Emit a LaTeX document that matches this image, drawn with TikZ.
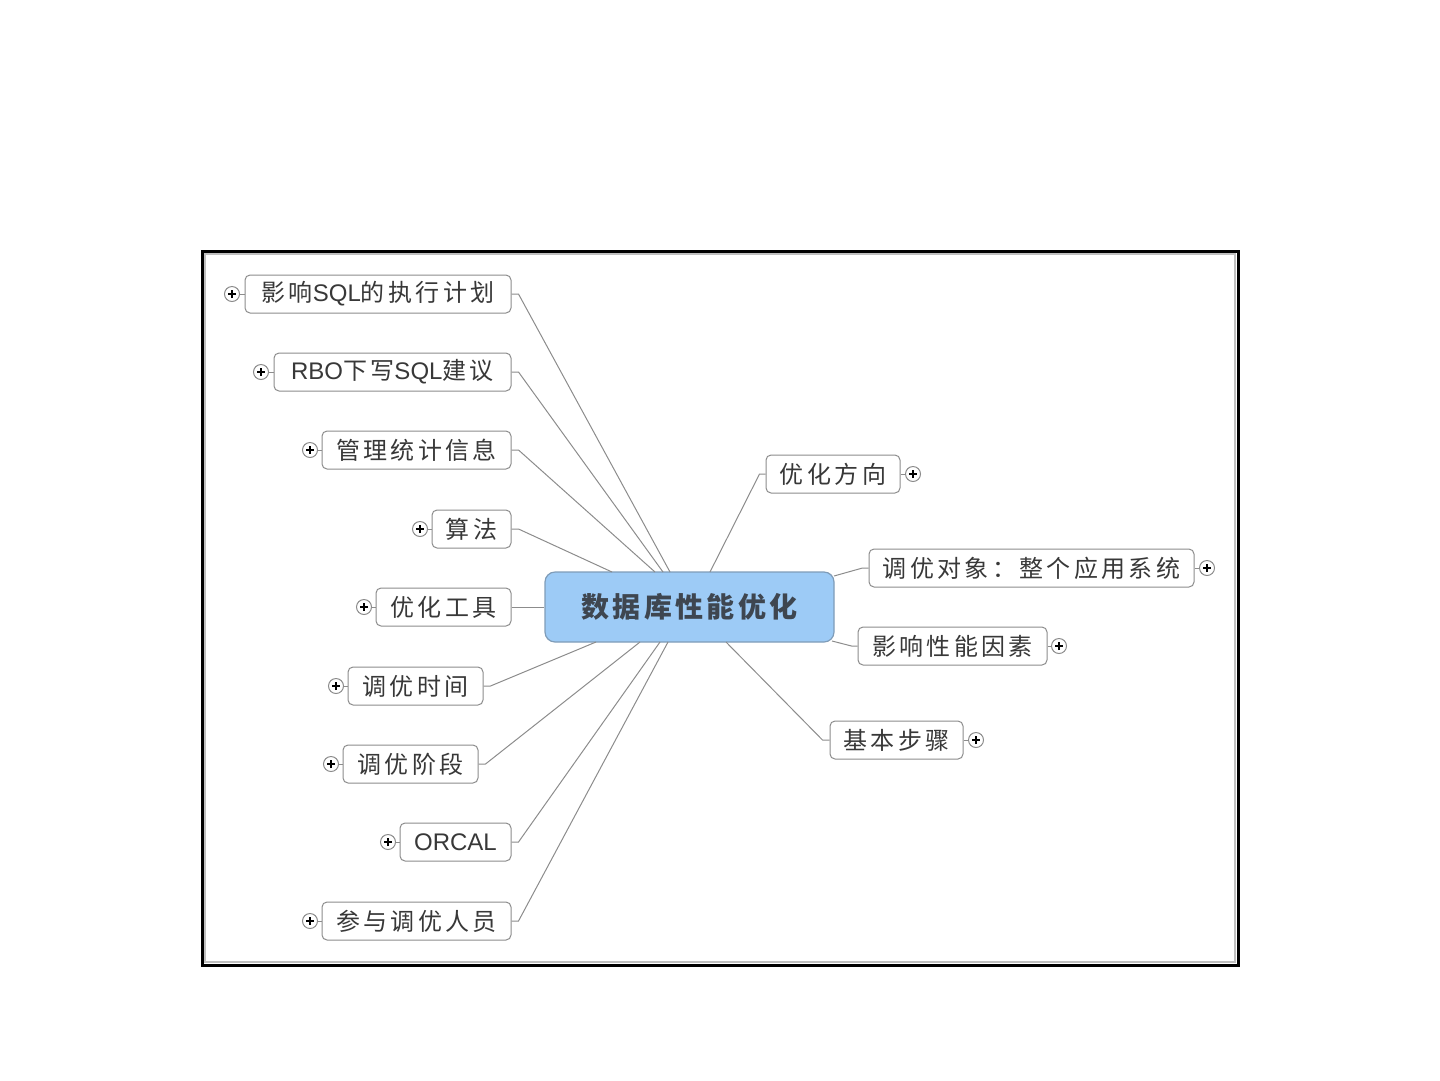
\documentclass[tikz,border=0pt]{standalone}
\usepackage{fontspec}
\setmainfont{Liberation Sans}
\newfontfamily\cjk[LetterSpace=14]{Noto Sans CJK SC}
\newfontfamily\cjkroot[LetterSpace=12]{Noto Sans CJK SC}
\definecolor{boxgray}{HTML}{8C8C8C}
\definecolor{linegray}{HTML}{8C8C8C}
\definecolor{txtgray}{HTML}{383838}
\definecolor{rootfill}{HTML}{9DCBF6}
\definecolor{rootdraw}{HTML}{7F9CB8}
\definecolor{roottxt}{HTML}{3E4650}
\tikzset{
  leaf/.style={draw=boxgray, rounded corners=5pt, minimum height=38pt, line width=1pt,
    fill=white, text=txtgray, font=\fontsize{24}{24}\selectfont, inner sep=0pt},
  rootbox/.style={draw=rootdraw, rounded corners=10pt, minimum height=70pt, minimum width=289pt,
    line width=1.2pt, fill=rootfill, text=roottxt, font=\fontsize{28}{28}\selectfont\bfseries, inner sep=0pt},
  plus/.style={circle, draw=boxgray, minimum size=15pt, inner sep=0pt, line width=1pt, fill=white,
    path picture={
      \draw[line width=1.1pt, black] ([xshift=-4pt]path picture bounding box.center) -- ([xshift=4pt]path picture bounding box.center);
      \draw[line width=1.1pt, black] ([yshift=-4pt]path picture bounding box.center) -- ([yshift=4pt]path picture bounding box.center);
    }},
  link/.style={draw=linegray, line width=1pt}
}
\begin{document}
\begin{tikzpicture}[x=1pt, y=-1pt]
\useasboundingbox (0,0) rectangle (1440,1080);
% frame
\draw[line width=3pt, black] (202,251) rectangle (1238,965);
\draw[line width=1.5pt, black!25] (205,254) rectangle (1235,962);

% root
\node[rootbox] (root) at (689.5,607) {\cjkroot 数据库性能优化};

% left leaves
\node[leaf, minimum width=266pt] (l1) at (378,294) {{\cjk 影响}SQL{\cjk 的执行计划}};
\node[leaf, minimum width=237pt] (l2) at (392.5,372) {RBO{\cjk 下写}SQL{\cjk 建议}};
\node[leaf, minimum width=189pt] (l3) at (416.5,450) {\cjk 管理统计信息};
\node[leaf, minimum width=79pt]  (l4) at (471.5,529) {\cjk 算法};
\node[leaf, minimum width=135pt] (l5) at (443.5,607) {\cjk 优化工具};
\node[leaf, minimum width=135pt] (l6) at (415.5,686) {\cjk 调优时间};
\node[leaf, minimum width=135pt] (l7) at (410.5,764) {\cjk 调优阶段};
\node[leaf, minimum width=111pt] (l8) at (455.5,842) {ORCAL};
\node[leaf, minimum width=189pt] (l9) at (416.5,921) {\cjk 参与调优人员};

% right leaves
\node[leaf, minimum width=134pt] (r1) at (833,474) {\cjk 优化方向};
\node[leaf, minimum width=325pt] (r2) at (1031.5,568) {\cjk 调优对象：整个应用系统};
\node[leaf, minimum width=189pt] (r3) at (952.5,646) {\cjk 影响性能因素};
\node[leaf, minimum width=133pt] (r4) at (896.5,740) {\cjk 基本步骤};

% plus markers
\node[plus] (p1) at (232,294) {};
\node[plus] (p2) at (261,372) {};
\node[plus] (p3) at (310,450) {};
\node[plus] (p4) at (420,529) {};
\node[plus] (p5) at (364,607) {};
\node[plus] (p6) at (336,686) {};
\node[plus] (p7) at (331,764) {};
\node[plus] (p8) at (388,842) {};
\node[plus] (p9) at (310,921) {};
\node[plus] (q1) at (913,474) {};
\node[plus] (q2) at (1207,568) {};
\node[plus] (q3) at (1059,646) {};
\node[plus] (q4) at (976,740) {};

\foreach \i in {1,...,9} {\draw[link] (p\i) -- (l\i);}
\foreach \i in {1,...,4} {\draw[link] (r\i) -- (q\i);}

% attach points on root
\coordinate (c1) at (670,572);
\coordinate (c2) at (663,572);
\coordinate (c3) at (655,572);
\coordinate (c4) at (612,572);
\coordinate (c6) at (596,642);
\coordinate (c7) at (640,642);
\coordinate (c8) at (660,642);
\coordinate (c9) at (668,642);
\coordinate (d1) at (710,572);
\coordinate (d2) at (834,576);
\coordinate (d3) at (832,641);
\coordinate (d4) at (726,642);

\draw[link] (l1.east) -- ++(7,0) -- (c1);
\draw[link] (l2.east) -- ++(7,0) -- (c2);
\draw[link] (l3.east) -- ++(7,0) -- (c3);
\draw[link] (l4.east) -- ++(7,0) -- (c4);
\draw[link] (l5.east) -- (root.west);
\draw[link] (l6.east) -- ++(7,0) -- (c6);
\draw[link] (l7.east) -- ++(7,0) -- (c7);
\draw[link] (l8.east) -- ++(7,0) -- (c8);
\draw[link] (l9.east) -- ++(7,0) -- (c9);

\draw[link] (r1.west) -- ++(-6,0) -- (d1);
\draw[link] (r2.west) -- ++(-6,0) -- (d2);
\draw[link] (r3.west) -- ++(-6,0) -- (d3);
\draw[link] (r4.west) -- ++(-7,0) -- (d4);
\end{tikzpicture}
\end{document}
